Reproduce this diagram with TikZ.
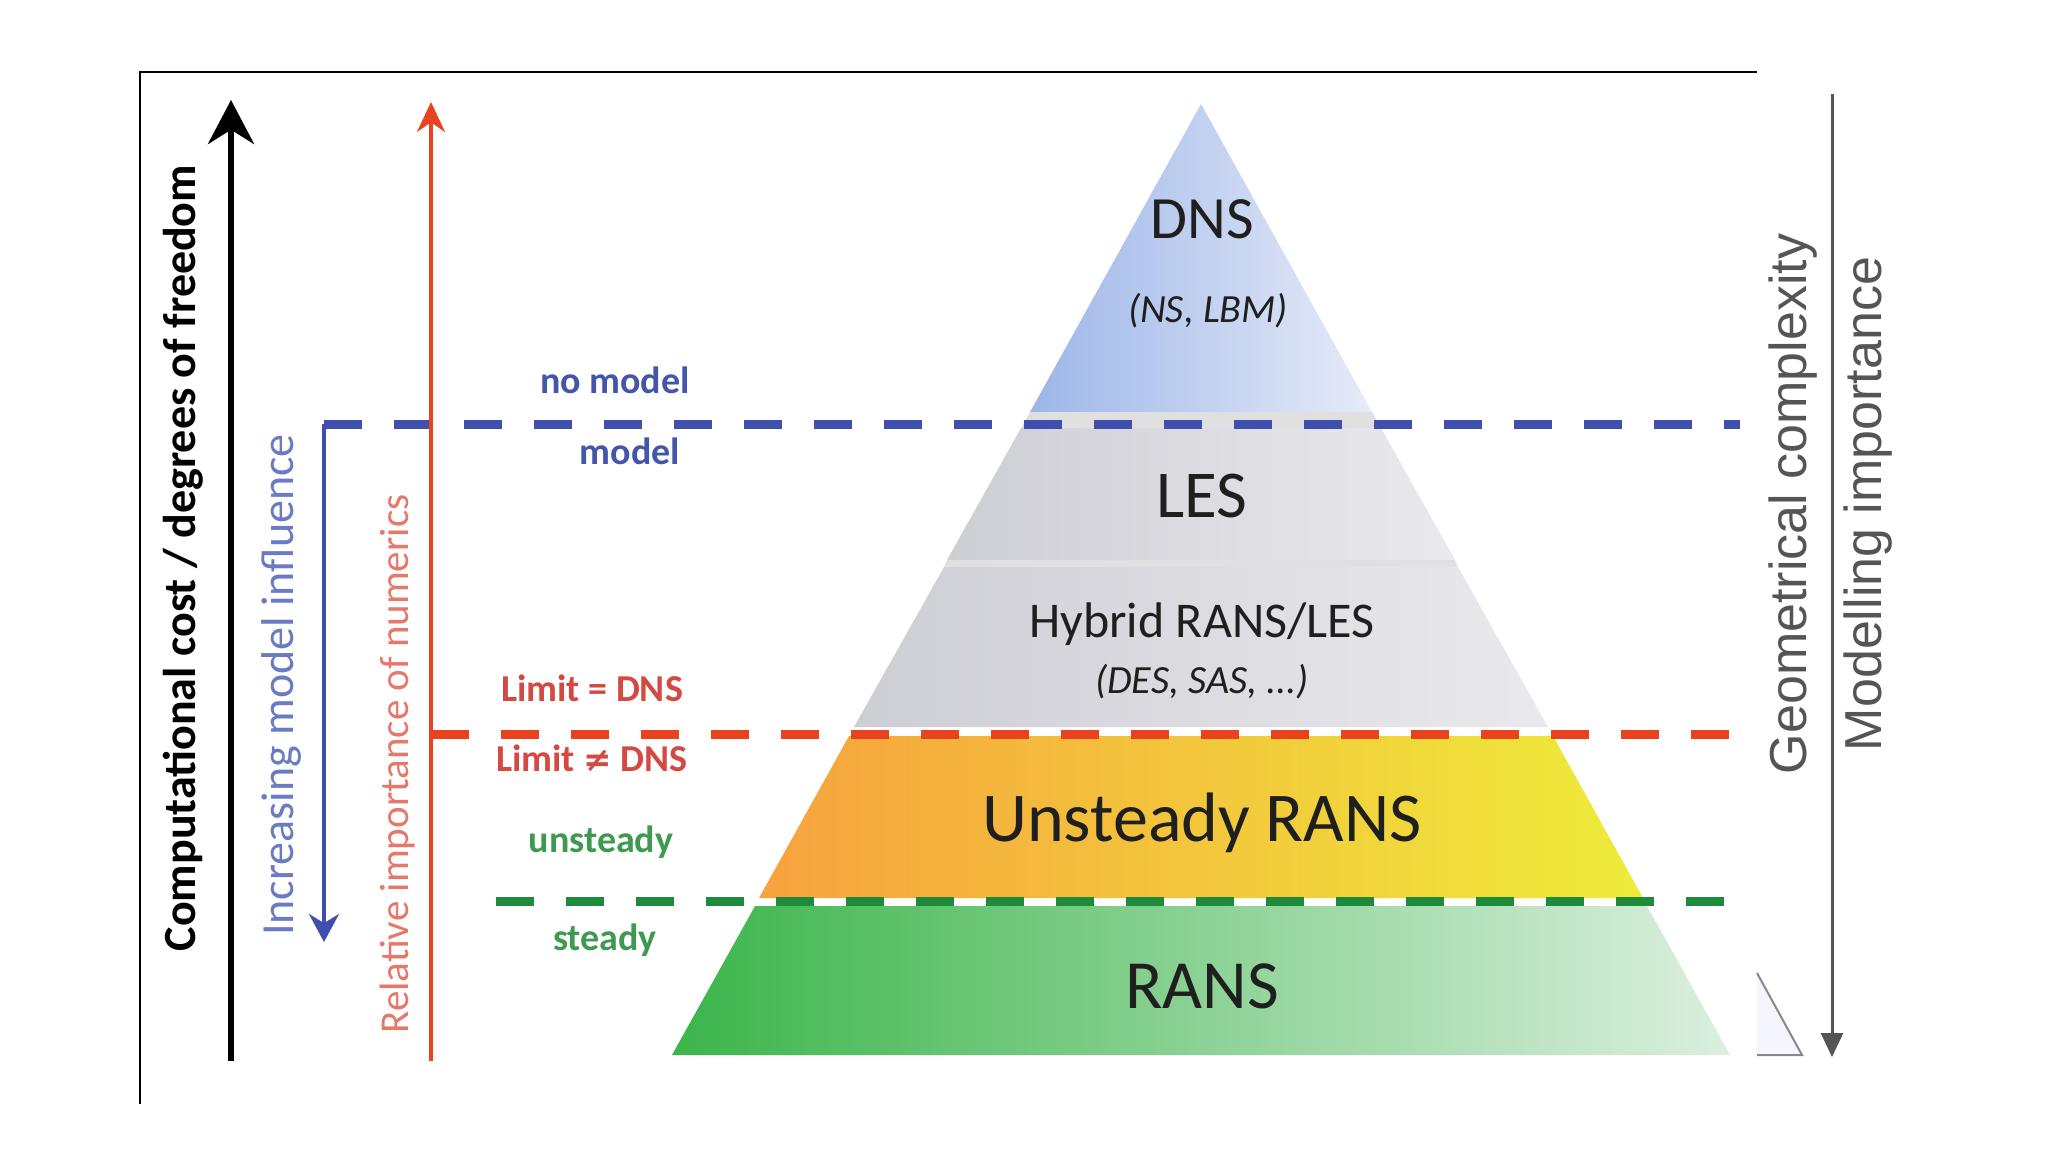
\documentclass[tikz,border=0pt]{standalone}
\usepackage{fontspec}
\setmainfont{Carlito}
\newfontfamily\arialfont{Liberation Sans}
\newfontfamily\dejavu{DejaVu Sans}
\usetikzlibrary{arrows.meta}
\definecolor{cblue}{HTML}{3F4FAE}
\definecolor{cbluetxt}{HTML}{4456AA}
\definecolor{cbluelight}{HTML}{6A7BC4}
\definecolor{cred}{HTML}{E8421E}
\definecolor{credtxt}{HTML}{D44A42}
\definecolor{credlight}{HTML}{E6786A}
\definecolor{cgreen}{HTML}{1E8A3C}
\definecolor{cgreentxt}{HTML}{3E9A4E}
\definecolor{cgray}{HTML}{555555}
\definecolor{dnsL}{HTML}{9DB6E8}
\definecolor{dnsR}{HTML}{E6EBF8}
\definecolor{lesL}{HTML}{CDCDD4}
\definecolor{lesR}{HTML}{EAEAEE}
\definecolor{urL}{HTML}{F7A23E}
\definecolor{urM}{HTML}{F4C83E}
\definecolor{urR}{HTML}{EEEC3A}
\definecolor{raL}{HTML}{3BB54A}
\definecolor{raR}{HTML}{DCEFE0}
\tikzset{
  dashline/.style={line width=9pt, dash pattern=on 38pt off 32pt},
  sidelabel/.style={font=\fontsize{38}{40}\selectfont\bfseries, inner sep=0pt},
  pyrtext/.style={text=black!88, inner sep=0pt},
  axislabel/.style={rotate=90, inner sep=0pt},
  ledge/.style={fill=black!12, draw=none},
}
\begin{document}
\begin{tikzpicture}[x=1pt,y=-1pt]
\useasboundingbox (0,0) rectangle (2048,1152);
\fill[white] (0,0) rectangle (2048,1152);

% frame of pasted picture
\coordinate (fb) at (140,1104);
\coordinate (ftl) at (140,72);
\coordinate (ftr) at (1757,72);
\draw[line width=2.5pt] (fb) -- (ftl) -- (ftr);

% pyramid layers
\path[left color=dnsL, right color=dnsR] (1201,104) -- (1372,412) -- (1030,412) -- cycle;
\path[ledge] (1030,412) -- (1372,412) -- (1381,428) -- (1021,428) -- cycle;
\path[left color=lesL, right color=lesR] (1021,428) -- (1381,428) -- (1455,560) -- (947,560) -- cycle;
\path[ledge] (947,560) -- (1455,560) -- (1458,567) -- (944,567) -- cycle;
\path[left color=lesL, right color=lesR] (944,567) -- (1458,567) -- (1548,727) -- (854,727) -- cycle;
\path[left color=urL, middle color=urM, right color=urR] (849,736) -- (1553,736) -- (1643,898) -- (759,898) -- cycle;
\path[left color=raL, right color=raR] (755,906) -- (1647,906) -- (1730,1055) -- (672,1055) -- cycle;

% small cut-off corner bottom right
\draw[cgray!70, line width=2pt, fill=blue!4] (1757,973) -- (1802,1055) -- (1757,1055);

% pyramid texts
\node[pyrtext, font=\fontsize{60}{62}\selectfont] (dns) at (1202,219) {DNS};
\node[pyrtext, font=\fontsize{40}{42}\selectfont\itshape] (dnssub) at (1208,311) {(NS, LBM)};
\node[pyrtext, font=\fontsize{67}{70}\selectfont] (les) at (1202,496) {LES};
\node[pyrtext, font=\fontsize{50}{52}\selectfont] (hyb) at (1202,624) {Hybrid RANS/LES};
\node[pyrtext, font=\fontsize{40}{42}\selectfont\itshape] (hybsub) at (1202,682) {(DES, SAS, ...)};
\node[pyrtext, font=\fontsize{70}{72}\selectfont] (urans) at (1202,823) {Unsteady RANS};
\node[pyrtext, font=\fontsize{69}{72}\selectfont] (rans) at (1202,986) {RANS};

% dashed separators
\coordinate (bcorner) at (324,424);
\coordinate (bend) at (1740,424);
\coordinate (rstart) at (431,734);
\coordinate (rend) at (1732,734);
\coordinate (gstart) at (496,901);
\coordinate (gend) at (1728,901);
\draw[dashline, cblue] (bcorner) -- (bend);
\draw[dashline, cred] (rstart) -- (rend);
\draw[dashline, cgreen] (gstart) -- (gend);

% vertical arrows
\coordinate (k0) at (231,1061);
\coordinate (k1) at (231,100);
\draw[line width=6pt, -{Stealth[length=44pt,width=46pt]}] (k0) -- (k1);
\coordinate (r0) at (431,1061);
\coordinate (r1) at (431,102);
\draw[cred, line width=3.5pt, -{Stealth[length=30pt,width=28pt]}] (r0) -- (r1);
\coordinate (b1) at (324,942);
\draw[cblue, line width=4pt, -{Stealth[length=28pt,width=30pt]}] (bcorner) -- (b1);
\coordinate (g0) at (1832,94);
\coordinate (g1) at (1832,1057);
\draw[cgray, line width=3pt, -{Triangle[length=24pt,width=22pt]}] (g0) -- (g1);

% axis labels
\node[axislabel, font=\fontsize{46}{48}\selectfont\bfseries] (cost) at (183,558) {Computational cost / degrees of freedom};
\node[axislabel, text=cbluelight, font=\fontsize{46}{48}\selectfont] (infl) at (281,685) {Increasing model influence};
\node[axislabel, text=credlight, font=\fontsize{41}{43}\selectfont] (num) at (398,764) {Relative importance of numerics};
\node[axislabel, text=cgray, font=\fontsize{52}{54}\selectfont\arialfont] (geo) at (1793,504) {Geometrical complexity};
\node[axislabel, text=cgray, font=\fontsize{52}{54}\selectfont\arialfont] (mod) at (1868,504) {Modelling importance};

% side labels
\node[sidelabel, text=cbluetxt] (nomodel) at (615,380) {no model};
\node[sidelabel, text=cbluetxt] (model) at (630,451) {model};
\node[sidelabel, text=credtxt] (limeq) at (592,688) {Limit = DNS};
\node[sidelabel, text=credtxt] (limne) at (592,758) {Limit {\dejavu\bfseries\fontsize{34}{36}\selectfont ≠} DNS};
\node[sidelabel, text=cgreentxt] (unst) at (601,842) {unsteady};
\node[sidelabel, text=cgreentxt] (st) at (605,940) {steady};
\end{tikzpicture}
\end{document}
